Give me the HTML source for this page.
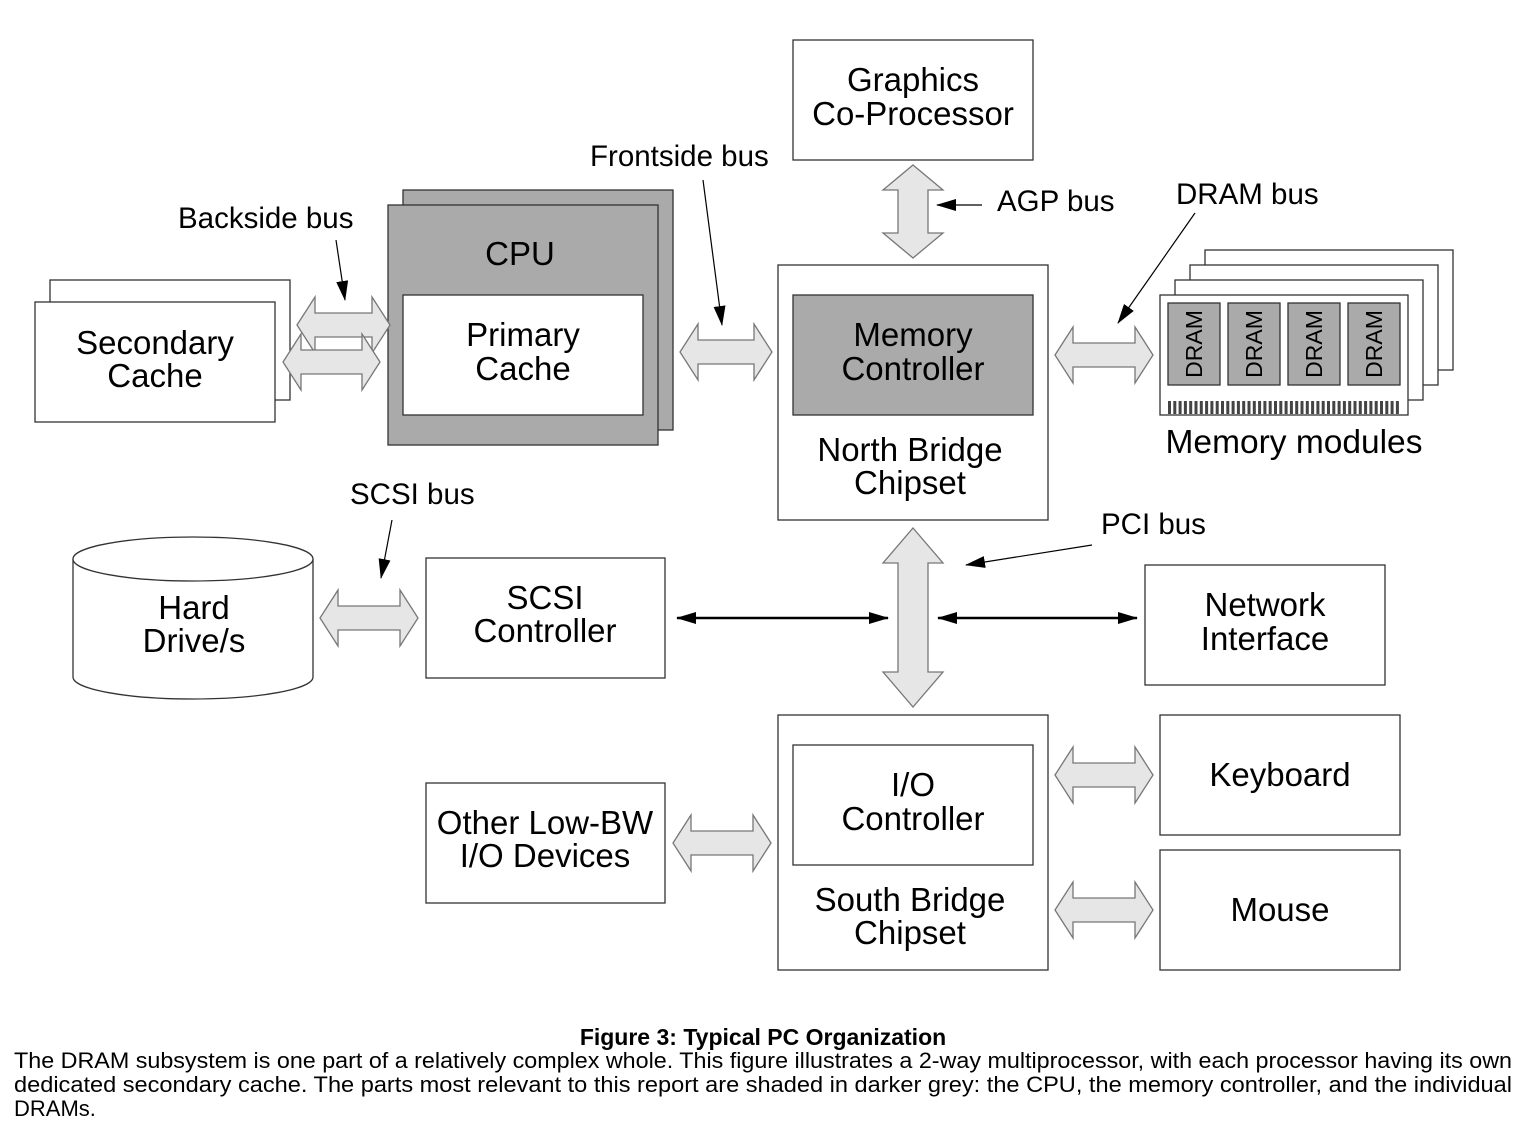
<!DOCTYPE html>
<html><head><meta charset="utf-8"><style>
html,body{margin:0;padding:0;background:#fff;}
svg{display:block;}
text{font-family:"Liberation Sans",Arial,sans-serif;fill:#000;}
</style></head><body>
<svg width="1534" height="1134" viewBox="0 0 1534 1134" xmlns="http://www.w3.org/2000/svg">
<defs>
<marker id="ab" viewBox="0 0 20 12" markerWidth="20" markerHeight="12" refX="19" refY="6" orient="auto-start-reverse" markerUnits="userSpaceOnUse">
<path d="M0,0 L20,6 L0,12 Z" fill="#000"/></marker>
</defs>
<g stroke="#333" stroke-width="1.3" fill="#fff">
<rect x="793" y="40" width="240" height="120"/>
<rect x="778" y="265" width="270" height="255"/>
<rect x="793" y="295" width="240" height="120" fill="#aaa"/>
<rect x="403" y="190" width="270" height="240" fill="#aaa"/>
<rect x="388" y="205" width="270" height="240" fill="#aaa"/>
<rect x="403" y="295" width="240" height="120" fill="#fff"/>
<rect x="50" y="280" width="240" height="120"/>
<rect x="35" y="302" width="240" height="120"/>
<rect x="1205" y="250" width="248" height="120"/>
<rect x="1190" y="265" width="248" height="120"/>
<rect x="1175" y="280" width="248" height="120"/>
<rect x="1160" y="295" width="248" height="120"/>
<rect x="1168" y="303" width="52" height="82" fill="#aaa"/>
<rect x="1228" y="303" width="52" height="82" fill="#aaa"/>
<rect x="1288" y="303" width="52" height="82" fill="#aaa"/>
<rect x="1348" y="303" width="52" height="82" fill="#aaa"/>
<rect x="426" y="558" width="239" height="120"/>
<rect x="1145" y="565" width="240" height="120"/>
<rect x="778" y="715" width="270" height="255"/>
<rect x="793" y="745" width="240" height="120"/>
<rect x="426" y="783" width="239" height="120"/>
<rect x="1160" y="715" width="240" height="120"/>
<rect x="1160" y="850" width="240" height="120"/>
<path d="M73,559 L73,677 A120,22 0 0 0 313,677 L313,559"/>
<ellipse cx="193" cy="559" rx="120" ry="22"/>
</g>
<path d="M1168,407.5 H1400" stroke="#444" stroke-width="13" stroke-dasharray="3,2.3"/>
<g font-size="23" text-anchor="middle">
<text transform="translate(1202,344) rotate(-90)">DRAM</text>
<text transform="translate(1262,344) rotate(-90)">DRAM</text>
<text transform="translate(1322,344) rotate(-90)">DRAM</text>
<text transform="translate(1382,344) rotate(-90)">DRAM</text>
</g>
<g fill="#e6e6e6" stroke="#777" stroke-width="1.3">
<polygon points="297,325 315,297 315,313 372,313 372,297 390,325 372,353 372,337 315,337 315,353"/>
<polygon points="283,362 301,334 301,350 362,350 362,334 380,362 362,390 362,374 301,374 301,390"/>
<polygon points="680,352 698,324 698,340 754,340 754,324 772,352 754,380 754,364 698,364 698,380"/>
<polygon points="1055,355 1073,327 1073,343 1135,343 1135,327 1153,355 1135,383 1135,367 1073,367 1073,383"/>
<polygon points="320,618 338,590 338,606 400,606 400,590 418,618 400,646 400,630 338,630 338,646"/>
<polygon points="673,843 691,815 691,831 753,831 753,815 771,843 753,871 753,855 691,855 691,871"/>
<polygon points="1055,775 1073,747 1073,763 1135,763 1135,747 1153,775 1135,803 1135,787 1073,787 1073,803"/>
<polygon points="1055,910 1073,882 1073,898 1135,898 1135,882 1153,910 1135,938 1135,922 1073,922 1073,938"/>
<polygon points="913,165 943,190 928,190 928,233 943,233 913,258 883,233 898,233 898,190 883,190"/>
<polygon points="913,528 943,563 928,563 928,672 943,672 913,707 883,672 898,672 898,563 883,563"/>
</g>
<g stroke="#000" stroke-width="2.5" fill="none">
<line x1="677" y1="618" x2="888" y2="618" marker-start="url(#ab)" marker-end="url(#ab)"/>
<line x1="938" y1="618" x2="1137" y2="618" marker-start="url(#ab)" marker-end="url(#ab)"/>
</g>
<g stroke="#000" stroke-width="1.2" fill="none">
<line x1="336" y1="240" x2="345" y2="300" marker-end="url(#ab)"/>
<line x1="703" y1="180" x2="722" y2="325" marker-end="url(#ab)"/>
<line x1="982" y1="205" x2="937" y2="205" marker-end="url(#ab)"/>
<line x1="1195" y1="213" x2="1118" y2="323" marker-end="url(#ab)"/>
<line x1="392" y1="520" x2="381" y2="578" marker-end="url(#ab)"/>
<line x1="1092" y1="545" x2="966" y2="565" marker-end="url(#ab)"/>
</g>
<g font-size="33" text-anchor="middle">
<text x="913" y="91">Graphics</text><text x="913" y="125">Co-Processor</text>
<text x="913" y="346">Memory</text><text x="913" y="380">Controller</text>
<text x="910" y="461">North Bridge</text><text x="910" y="494">Chipset</text>
<text x="520" y="265">CPU</text>
<text x="523" y="346">Primary</text><text x="523" y="380">Cache</text>
<text x="155" y="354">Secondary</text><text x="155" y="387">Cache</text>
<text x="1294" y="453" font-size="33.5">Memory modules</text>
<text x="194" y="619">Hard</text><text x="194" y="652">Drive/s</text>
<text x="545" y="609">SCSI</text><text x="545" y="642">Controller</text>
<text x="1265" y="616">Network</text><text x="1265" y="650">Interface</text>
<text x="913" y="796">I/O</text><text x="913" y="830">Controller</text>
<text x="910" y="911">South Bridge</text><text x="910" y="944">Chipset</text>
<text x="545" y="834">Other Low-BW</text><text x="545" y="867">I/O Devices</text>
<text x="1280" y="786">Keyboard</text>
<text x="1280" y="921">Mouse</text>
</g>
<g font-size="29.5">
<text x="178" y="228">Backside bus</text>
<text x="590" y="166">Frontside bus</text>
<text x="997" y="211">AGP bus</text>
<text x="1176" y="204">DRAM bus</text>
<text x="350" y="504">SCSI bus</text>
<text x="1101" y="534">PCI bus</text>
</g>
<text x="763" y="1045" font-size="23" font-weight="bold" text-anchor="middle">Figure 3: Typical PC Organization</text>
<g font-size="22">
<text x="14" y="1068" textLength="1498" lengthAdjust="spacingAndGlyphs">The DRAM subsystem is one part of a relatively complex whole. This figure illustrates a 2-way multiprocessor, with each processor having its own</text>
<text x="14" y="1092" textLength="1498" lengthAdjust="spacingAndGlyphs">dedicated secondary cache. The parts most relevant to this report are shaded in darker grey: the CPU, the memory controller, and the individual</text>
<text x="14" y="1116">DRAMs.</text>
</g>
</svg>
</body></html>
